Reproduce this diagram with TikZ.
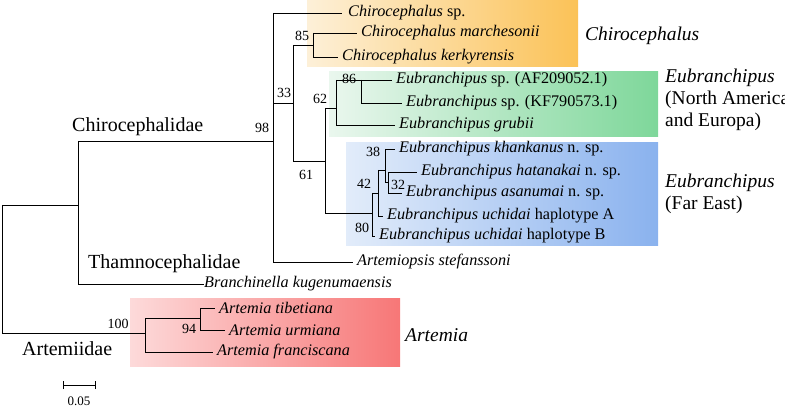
\documentclass[tikz,border=0pt]{standalone}
\usepackage{fontspec}
\setmainfont{Liberation Serif}
\begin{document}
\begin{tikzpicture}[x=1pt,y=-1pt,
  tip/.style={anchor=west,font=\fontsize{16.2}{18}\selectfont,inner sep=0pt},
  bs/.style={font=\fontsize{14}{15}\selectfont,inner sep=1pt},
  grp/.style={anchor=west,font=\fontsize{19.5}{22}\selectfont,inner sep=0pt,align=left},
  fam/.style={font=\fontsize{20}{22}\selectfont,inner sep=0pt},
  br/.style={line width=0.9pt}]
\useasboundingbox (0,0) rectangle (785,409);
\definecolor{orA}{HTML}{FDF0D8}\definecolor{orB}{HTML}{FBC257}
\definecolor{grA}{HTML}{EAF7EE}\definecolor{grB}{HTML}{7ED79A}
\definecolor{blA}{HTML}{E2ECFA}\definecolor{blB}{HTML}{8AB2EE}
\definecolor{rdA}{HTML}{FDDADA}\definecolor{rdB}{HTML}{F77777}
\shade[left color=orA,right color=orB] (307,0) rectangle (578,67);
\shade[left color=grA,right color=grB] (329,72) rectangle (658,137);
\shade[left color=blA,right color=blB] (346,143) rectangle (658,245);
\shade[left color=rdA,right color=rdB] (130,298) rectangle (400,366);
% tips
\node[tip] (t1) at (348,13) {\textit{Chirocephalus} sp.};
\node[tip] (t2) at (361,33) {\textit{Chirocephalus marchesonii}};
\node[tip] (t3) at (342,57) {\textit{Chirocephalus kerkyrensis}};
\node[tip] (t4) at (396,80) {\textit{Eubranchipus} sp. (AF209052.1)};
\node[tip] (t5) at (406,103) {\textit{Eubranchipus} sp. (KF790573.1)};
\node[tip] (t6) at (399,125) {\textit{Eubranchipus grubii}};
\node[tip] (t7) at (399,149) {\textit{Eubranchipus khankanus} n. sp.};
\node[tip] (t8) at (421,172) {\textit{Eubranchipus hatanakai} n. sp.};
\node[tip] (t9) at (406,193) {\textit{Eubranchipus asanumai} n. sp.};
\node[tip] (t10) at (387,216) {\textit{Eubranchipus uchidai} haplotype A};
\node[tip] (t11) at (379,236) {\textit{Eubranchipus uchidai} haplotype B};
\node[tip] (t12) at (357,262) {\textit{Artemiopsis stefanssoni}};
\node[tip] (t13) at (204,284) {\textit{Branchinella kugenumaensis}};
\node[tip] (t14) at (219,308) {\textit{Artemia tibetiana}};
\node[tip] (t15) at (229,330) {\textit{Artemia urmiana}};
\node[tip] (t16) at (217,352) {\textit{Artemia franciscana}};
% internal coordinates
\coordinate (r) at (2,269);
\coordinate (a) at (78,205);
\coordinate (c) at (273,141);
\coordinate (n33) at (293,103);
\coordinate (n85) at (313,45);
\coordinate (n61) at (325,161);
\coordinate (n62) at (336,108);
\coordinate (n86) at (361,91);
\coordinate (n80) at (372,213);
\coordinate (n42) at (378,193);
\coordinate (n38) at (385,170);
\coordinate (n32) at (388,182);
\coordinate (ar) at (145,333);
\coordinate (n94) at (200,318);
\begin{scope}[br]
\draw (r|-a) -- (a); \draw (r|-ar) -- (ar); \draw (r|-a) -- (r|-ar);
\draw (a|-c) -- (c); \draw (a|-t13.west) -- (t13.west); \draw (a|-c) -- (a|-t13.west);
\draw (c|-t1.west) -- ([xshift=-6pt]t1.west); \draw (c|-n33) -- (n33); \draw (c|-t12.west) -- ([xshift=-4pt]t12.west);
\draw (c|-t1.west) -- (c|-t12.west);
\draw (n33|-n85) -- (n85); \draw (n33|-n61) -- (n61); \draw (n33|-n85) -- (n33|-n61);
\draw (n85|-t2.west) -- ([xshift=-4pt]t2.west); \draw (n85|-t3.west) -- ([xshift=-4pt]t3.west); \draw (n85|-t2.west) -- (n85|-t3.west);
\draw (n61|-n62) -- (n62); \draw (n61|-n80) -- (n80); \draw (n61|-n62) -- (n61|-n80);
\draw (n62|-t4.west) -- (n86|-t4.west); \draw (n62|-t6.west) -- ([xshift=-4pt]t6.west); \draw (n62|-t4.west) -- (n62|-t6.west);
\draw (n86|-t4.west) -- ([xshift=-4pt]t4.west); \draw (n86|-t5.west) -- ([xshift=-4pt]t5.west); \draw (n86|-t4.west) -- (n86|-t5.west);
\draw (n80|-n42) -- (n42); \draw (n80|-t11.west) -- ([xshift=-4pt]t11.west); \draw (n80|-n42) -- (n80|-t11.west);
\draw (n42|-n38) -- (n38); \draw (n42|-t10.west) -- ([xshift=-4pt]t10.west); \draw (n42|-n38) -- (n42|-t10.west);
\draw (n38|-t7.west) -- ([xshift=-4pt]t7.west); \draw (n38|-n32) -- (n32); \draw (n38|-t7.west) -- (n38|-n32);
\draw (n32|-t8.west) -- ([xshift=-4pt]t8.west); \draw (n32|-t9.west) -- ([xshift=-4pt]t9.west); \draw (n32|-t8.west) -- (n32|-t9.west);
\draw (ar|-n94) -- (n94); \draw (ar|-t16.west) -- ([xshift=-4pt]t16.west); \draw (ar|-n94) -- (ar|-t16.west);
\draw (n94|-t14.west) -- ([xshift=-4pt]t14.west); \draw (n94|-t15.west) -- ([xshift=-4pt]t15.west); \draw (n94|-t14.west) -- (n94|-t15.west);
\end{scope}
% bootstrap
\node[bs] (b98) at (262,128) {98};
\node[bs] (b33) at (284,93) {33};
\node[bs] (b85) at (302,36) {85};
\node[bs] (b62) at (320,99) {62};
\node[bs] (b86) at (349,79) {86};
\node[bs] (b61) at (306,175) {61};
\node[bs] (b38) at (373,152) {38};
\node[bs] (b42) at (364,184) {42};
\node[bs] (b32) at (398,185) {32};
\node[bs] (b80) at (362,228) {80};
\node[bs] (b100) at (118,324) {100};
\node[bs] (b94) at (189,329) {94};
% families
\node[fam,anchor=west] (f1) at (72,127) {Chirocephalidae};
\node[fam,anchor=west] (f2) at (88,264) {Thamnocephalidae};
\node[fam,anchor=west] (f3) at (22,349) {Artemiidae};
% groups
\node[grp] (g1) at (585,36) {\textit{Chirocephalus}};
\node[grp,anchor=north west] (g2) at (665,69) {\textit{Eubranchipus}\\(North America\\and Europa)};
\node[grp,anchor=north west] (g3) at (665,174) {\textit{Eubranchipus}\\(Far East)};
\node[grp] (g4) at (405,335) {\textit{Artemia}};
% scale
\coordinate (s1) at (63,385); \coordinate (s2) at (95,385);
\draw[line width=0.8pt] (s1) -- (s2);
\draw[line width=0.8pt] ([yshift=-4pt]s1) -- ([yshift=4pt]s1);
\draw[line width=0.8pt] ([yshift=-4pt]s2) -- ([yshift=4pt]s2);
\node[font=\fontsize{13}{15}\selectfont] (sl) at (79,401) {0.05};
\end{tikzpicture}
\end{document}
